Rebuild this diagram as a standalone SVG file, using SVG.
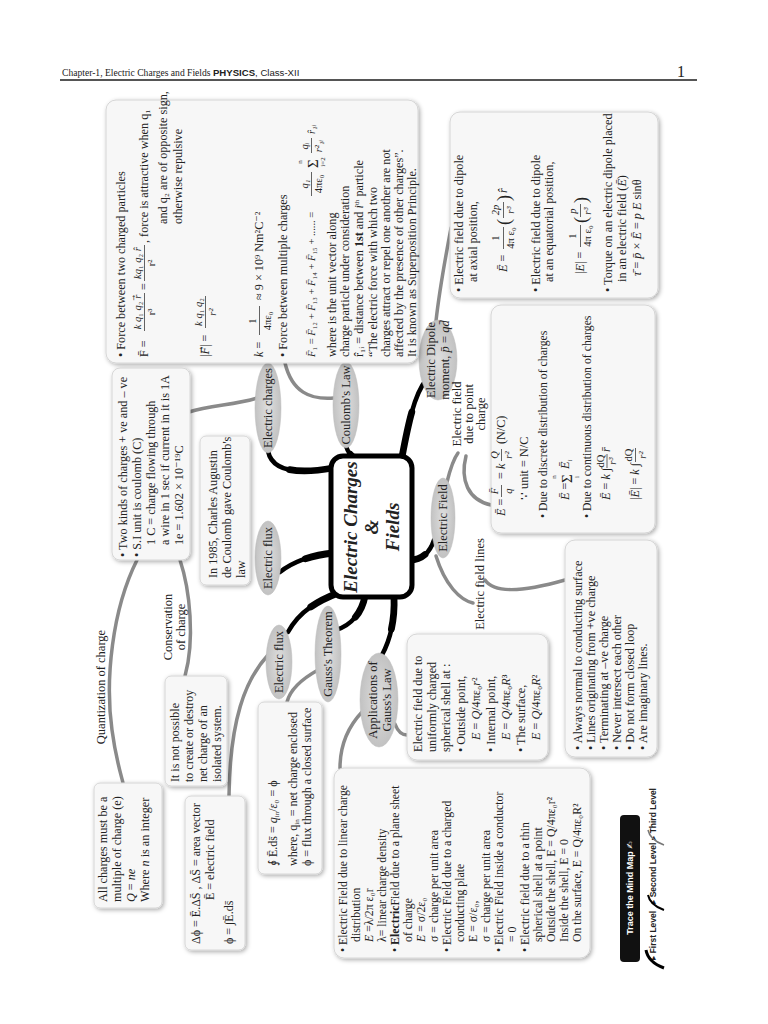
<svg xmlns="http://www.w3.org/2000/svg" width="768" height="1024" viewBox="0 0 768 1024">
<defs>
<filter id="sh" x="-10%" y="-10%" width="130%" height="130%">
<feDropShadow dx="1.5" dy="1.5" stdDeviation="2" flood-color="#000" flood-opacity="0.33"/>
</filter>
<radialGradient id="eg" cx="50%" cy="50%" r="50%">
<stop offset="0" stop-color="#dedede"/>
<stop offset="1" stop-color="#c2c2c2"/>
</radialGradient>
</defs>
<style>
text{font-family:"Liberation Serif","DejaVu Serif",serif;fill:#222;}
.t{font-size:12.2px;}
.s{font-size:10.5px;}
.xs{font-size:7px;}
.i{font-style:italic;}
.b{font-weight:bold;}
.m{text-anchor:middle;}
.box{fill:#f7f7f7;stroke:#d6d6d6;stroke-width:1;filter:url(#sh);}
.ell{fill:url(#eg);stroke:#bdbdbd;stroke-width:0.5;}
.lab{font-size:12.5px;text-anchor:middle;}
.blk{fill:none;stroke:#000;stroke-width:4.5;stroke-linecap:round;}
.blk2{fill:none;stroke:#000;stroke-width:6.8;stroke-linecap:round;}
.gry{fill:none;stroke:#8a8a8a;stroke-width:3.5;stroke-linecap:round;}
.fl{stroke:#222;stroke-width:0.7;}
.leg{font-family:"Liberation Sans","DejaVu Sans",sans-serif;font-size:8.5px;font-weight:bold;}
.ttl{font-weight:bold;font-style:italic;font-size:19px;text-anchor:middle;}
</style>
<rect width="768" height="1024" fill="#fff"/>

<g id="header">
<text x="62" y="76" style="font-size:9.6px">Chapter-1, Electric Charges and Fields <tspan style="font-family:'Liberation Sans',sans-serif;font-weight:bold">PHYSICS</tspan><tspan style="font-family:'Liberation Sans',sans-serif">, Class-XII</tspan></text>
<text x="677" y="77" style="font-size:16px">1</text>
<line x1="60" y1="80" x2="697" y2="80" stroke="#555" stroke-width="2"/>
</g>

<g id="connectors">
<path class="blk" d="M333 468 C300 474 272 472 268 451"/>
<path class="blk2" d="M333 468 C316.5 471 301.3 472 289.6 469.6"/>
<path class="blk" d="M356 459 C352 457 348 453 346 446"/>
<path class="blk2" d="M356 459 C354 458 352 456.5 350.3 454.4"/>
<path class="blk" d="M333 553 C315 555 295 560 280 572"/>
<path class="blk2" d="M333 553 C324 554 314.5 555.8 305.4 558.8"/>
<path class="blk" d="M338 593 C320 600 300 610 288 632"/>
<path class="blk2" d="M338 593 C329 596.5 319.5 600.8 310.8 606.9"/>
<path class="blk" d="M365 596 C362 612 352 625 336 630"/>
<path class="blk2" d="M365 596 C363.5 604 360.3 611.3 355.4 617.1"/>
<path class="blk" d="M394 597 C395 620 390 640 382 655"/>
<path class="blk2" d="M394 597 C394.5 608.5 393.5 619.3 391.4 629"/>
<path class="blk" d="M410 560 C422 560 430 552 434 540"/>
<path class="blk2" d="M410 560 C416 560 421 558 425 554.5"/>
<path class="blk" d="M402 457 C408 425 414 395 426 380"/>
<path class="blk2" d="M402 457 C405 441 408 425.5 411.8 412.1"/>
<path class="gry" d="M257 398 C235 405 210 405 189 412"/>
<path class="gry" d="M334 398 C310 400 292 392 285 363"/>
<path class="gry" d="M137 560 C112 610 105 680 112 730 C116 760 122 778 123 783"/>
<path class="gry" d="M180 560 C190 590 195 640 185 676"/>
<path class="gry" d="M268 655 C245 680 230 720 229 796"/>
<path class="gry" d="M318 670 C300 680 290 690 287 702"/>
<path class="gry" d="M362 712 C345 730 340 750 340 768"/>
<path class="gry" d="M395 724 C398 732 402 735 407 735"/>
<path class="gry" d="M436 321 C440 285 446 255 451 228"/>
<path class="gry" d="M447 482 C451 466 455 457 458 453"/>
<path class="gry" d="M466 456 C460 480 468 500 491 505"/>
<path class="gry" d="M436 556 C445 585 460 600 473 603"/>
<path class="gry" d="M485 580 C495 595 530 590 565 580"/>
</g>

<g id="center">
<rect x="331" y="456" width="81" height="141" rx="12" fill="#fff" stroke="#000" stroke-width="5"/>
<g transform="translate(0,1024) rotate(-90)">
<text class="ttl" x="497" y="357">Electric Charges</text>
<text class="ttl" x="497" y="378">&amp;</text>
<text class="ttl" x="497" y="399">Fields</text>
</g>
</g>

<g id="e-charges">
<ellipse class="ell" cx="268" cy="408" rx="13" ry="45"/>
<g transform="translate(0,1024) rotate(-90)"><text class="lab" x="616" y="272">Electric charges</text></g>
</g>
<g id="e-coulomb">
<ellipse class="ell" cx="346" cy="405" rx="13" ry="43"/>
<g transform="translate(0,1024) rotate(-90)"><text class="lab" x="619" y="350">Coulomb's Law</text></g>
</g>
<g id="e-flux1">
<ellipse class="ell" cx="268" cy="558" rx="13" ry="37"/>
<g transform="translate(0,1024) rotate(-90)"><text class="lab" x="466" y="272">Electric flux</text></g>
</g>
<g id="e-flux2">
<ellipse class="ell" cx="279" cy="662" rx="13" ry="37"/>
<g transform="translate(0,1024) rotate(-90)"><text class="lab" x="362" y="283">Electric flux</text></g>
</g>
<g id="e-gauss">
<ellipse class="ell" cx="328" cy="654" rx="13" ry="48"/>
<g transform="translate(0,1024) rotate(-90)"><text class="lab" x="370" y="332">Gauss's Theorem</text></g>
</g>
<g id="e-applications">
<ellipse class="ell" cx="379" cy="700" rx="19" ry="47"/>
<g transform="translate(0,1024) rotate(-90)"><text class="lab" x="324" y="377">Applications of</text><text class="lab" x="324" y="391">Gauss's Law</text></g>
</g>
<g id="e-field">
<ellipse class="ell" cx="443" cy="518" rx="12" ry="40"/>
<g transform="translate(0,1024) rotate(-90)"><text class="lab" x="506" y="447">Electric Field</text></g>
</g>
<g id="e-dipole">
<ellipse class="ell" cx="438" cy="360" rx="19" ry="40"/>
<g transform="translate(0,1024) rotate(-90)"><text class="lab" x="664" y="435">Electric Dipole</text><text class="lab" x="664" y="449">moment, <tspan class="i">p̄</tspan> = <tspan class="i">qd̄</tspan></text></g>
</g>
<g id="l-pointcharge">
<g transform="translate(0,1024) rotate(-90)"><text class="lab" x="610" y="461">Electric field</text><text class="lab" x="610" y="473">due to point</text><text class="lab" x="610" y="485">charge</text></g>
</g>
<g id="l-fieldlines">
<g transform="translate(0,1024) rotate(-90)"><text class="lab" x="440" y="484">Electric field lines</text></g>
</g>
<g id="l-quantization">
<g transform="translate(0,1024) rotate(-90)"><text class="lab" x="337" y="105">Quantization of charge</text></g>
</g>
<g id="l-conservation">
<g transform="translate(0,1024) rotate(-90)"><text class="lab" x="397" y="172">Conservation</text><text class="lab" x="397" y="185">of charge</text></g>
</g>

<g id="b-coulomb">
<rect class="box" x="106" y="100" width="312" height="263" rx="10"/>
<g transform="translate(0,1024) rotate(-90)">
<text class="t" x="667" y="125">•  Force between two charged particles</text>
<text class="t" x="667" y="148">F̄ =</text>
<text class="s m" x="712" y="141"><tspan class="i">k q</tspan>₁ <tspan class="i">q</tspan>₂ <tspan class="i">r</tspan>⃗</text>
<line class="fl" x1="693" y1="144.5" x2="731" y2="144.5"/>
<text class="s m" x="712" y="155">r³</text>
<text class="t" x="734" y="148">=</text>
<text class="s m" x="761" y="141"><tspan class="i">kq</tspan>₁ <tspan class="i">q</tspan>₂ <tspan class="i">r̂</tspan></text>
<line class="fl" x1="743" y1="144.5" x2="779" y2="144.5"/>
<text class="s m" x="761" y="155">r²</text>
<text class="t" x="781" y="148">, force is attractive when q₁</text>
<text class="t" x="800" y="167">and q₂ are of opposite sign,</text>
<text class="t" x="800" y="182">otherwise repulsive</text>
<text class="t" x="667" y="209">|<tspan class="i">F</tspan>⃗| =</text>
<text class="s m" x="712" y="202"><tspan class="i">k q</tspan>₁ <tspan class="i">q</tspan>₂</text>
<line class="fl" x1="696" y1="205.5" x2="728" y2="205.5"/>
<text class="s m i" x="712" y="216">r²</text>
<text class="t" x="667" y="263"><tspan class="i">k</tspan> =</text>
<text class="s m" x="703" y="256">1</text>
<line class="fl" x1="689" y1="259.5" x2="718" y2="259.5"/>
<text class="s m" x="703" y="271">4πε₀</text>
<text class="t" x="724" y="263">≈ 9 × 10⁹ Nm²C⁻²</text>
<text class="t" x="667" y="287">•  Force between multiple charges</text>
<text class="s" x="667" y="315"><tspan class="i">F̄</tspan>₁ = <tspan class="i">F̄</tspan>₁₂ + <tspan class="i">F̄</tspan>₁₃ + <tspan class="i">F̄</tspan>₁₄ + <tspan class="i">F̄</tspan>₁₅ + ...... =</text>
<text class="s m i" x="840" y="308">q₁</text>
<line class="fl" x1="828" y1="311.5" x2="852" y2="311.5"/>
<text class="s m" x="840" y="322">4πε₀</text>
<text x="856" y="318" style="font-size:15px">Σ</text>
<text class="xs m" x="862" y="302">n</text>
<text class="xs m" x="862" y="325">i=2</text>
<text class="s m i" x="878" y="308">qᵢ</text>
<line class="fl" x1="871" y1="311.5" x2="886" y2="311.5"/>
<text class="s m i" x="878" y="322">r²₁ᵢ</text>
<text class="s i" x="890" y="315">r̂₁ᵢ</text>
<text class="t" x="667" y="336">where is the unit vector along</text>
<text class="t" x="667" y="349">charge particle under consideration</text>
<text class="t" x="667" y="363">r̂₁ᵢ = distance between <tspan class="b">1st</tspan> and <tspan class="i">i</tspan><tspan class="xs" dy="-4">th</tspan><tspan dy="4"> particle</tspan></text>
<text class="t" x="667" y="377">“The electric force with which two</text>
<text class="t" x="667" y="390">charges attract or repel one another are not</text>
<text class="t" x="667" y="403">affected by the presence of other charges”.</text>
<text class="t" x="667" y="416">It is known as Superposition Principle.</text>
</g>
</g>

<g id="b-dipole">
<rect class="box" x="450" y="112" width="208" height="186" rx="10"/>
<g transform="translate(0,1024) rotate(-90)">
<text class="t" x="732" y="463">•  Electric field due to dipole</text>
<text class="t" x="742" y="477">at axial position,</text>
<text class="t" x="752" y="507"><tspan class="i">Ē</tspan> =</text>
<text class="s m" x="786" y="499">1</text>
<line class="fl" x1="775" y1="503.5" x2="797" y2="503.5"/>
<text class="s m" x="786" y="514">4π ε₀</text>
<text x="799" y="510" style="font-size:18px">(</text>
<text class="s m i" x="814" y="499">2p</text>
<line class="fl" x1="806" y1="503.5" x2="822" y2="503.5"/>
<text class="s m i" x="814" y="514">r³</text>
<text x="823" y="510" style="font-size:18px">)</text>
<text class="t i" x="831" y="507">r̂</text>
<text class="t" x="732" y="540">•  Electric field due to dipole</text>
<text class="t" x="742" y="553">at an equatorial position,</text>
<text class="t" x="750" y="584">|<tspan class="i">E</tspan>| =</text>
<text class="s m" x="788" y="576">1</text>
<line class="fl" x1="777" y1="580.5" x2="799" y2="580.5"/>
<text class="s m" x="788" y="591">4π ε₀</text>
<text x="801" y="587" style="font-size:18px">(</text>
<text class="s m i" x="813" y="576">p</text>
<line class="fl" x1="807" y1="580.5" x2="820" y2="580.5"/>
<text class="s m i" x="813" y="591">r³</text>
<text x="821" y="587" style="font-size:18px">)</text>
<text class="t" x="732" y="612">•  Torque on an electric dipole placed</text>
<text class="t" x="742" y="626">in an electric field (<tspan class="i">Ē</tspan>)</text>
<text class="t" x="748" y="641"><tspan class="i">τ̄</tspan> = <tspan class="i">p̄</tspan> × <tspan class="i">Ē</tspan> =  <tspan class="i">p E</tspan> sinθ</text>
</g>
</g>

<g id="b-efield">
<rect class="box" x="491" y="305" width="164" height="228" rx="10"/>
<g transform="translate(0,1024) rotate(-90)">
<text class="t" x="508" y="505"><tspan class="i">Ē</tspan> =</text>
<text class="s m i" x="533" y="498">F̄</text>
<line class="fl" x1="527" y1="501.5" x2="539" y2="501.5"/>
<text class="s m i" x="533" y="512">q</text>
<text class="t" x="545" y="505">= <tspan class="i">k</tspan></text>
<text class="s m i" x="569" y="498">Q</text>
<line class="fl" x1="563" y1="501.5" x2="575" y2="501.5"/>
<text class="s m i" x="569" y="512">r²</text>
<text class="t" x="580" y="505">(N/C)</text>
<text class="t" x="524" y="528">∵ unit = N/C</text>
<text class="t" x="506" y="547" style="font-size:11.8px">•  Due to discrete distribution of charges</text>
<text class="t" x="524" y="569"><tspan class="i">Ē</tspan> = </text>
<text x="541" y="572" style="font-size:15px">Σ</text>
<text class="xs m" x="547" y="556">n</text>
<text class="xs m" x="547" y="579">i</text>
<text class="t i" x="555" y="569">Ē<tspan class="xs" dy="3">i</tspan></text>
<text class="t" x="506" y="591" style="font-size:11.8px">•  Due to continuous distribution of charges</text>
<text class="t" x="524" y="610"><tspan class="i">Ē</tspan> = <tspan class="i">k</tspan> ∫</text>
<text class="s m" x="563" y="604">dQ</text>
<line class="fl" x1="556" y1="607" x2="570" y2="607"/>
<text class="s m i" x="563" y="616">r³</text>
<text class="t i" x="572" y="610">r̄</text>
<text class="t" x="524" y="639">|<tspan class="i">Ē</tspan>| = <tspan class="i">k</tspan> ∫</text>
<text class="s m" x="569" y="632">dQ</text>
<line class="fl" x1="562" y1="635.5" x2="576" y2="635.5"/>
<text class="s m i" x="569" y="646">r²</text>
</g>
</g>

<g id="b-fieldlines">
<rect class="box" x="565" y="540" width="92" height="217" rx="10"/>
<g transform="translate(0,1024) rotate(-90)">
<text class="t" x="274" y="582">•  Always normal to conducting surface</text>
<text class="t" x="274" y="595">•  Lines originating from +ve charge</text>
<text class="t" x="274" y="608">•  Terminating at –ve charge</text>
<text class="t" x="274" y="621">•  Never intersect each other</text>
<text class="t" x="274" y="634">•  Do not form closed loop</text>
<text class="t" x="274" y="647">•  Are imaginary lines.</text>
</g>
</g>

<g id="b-shell">
<rect class="box" x="407" y="634" width="141" height="126" rx="10"/>
<g transform="translate(0,1024) rotate(-90)">
<text class="t" x="272" y="422">Electric field due to</text>
<text class="t" x="272" y="436">uniformly charged</text>
<text class="t" x="272" y="450">spherical shell at :</text>
<text class="t" x="272" y="465">•  Outside point,</text>
<text class="t" x="284" y="480"><tspan class="i">E</tspan> = <tspan class="i">Q</tspan>/4πε₀<tspan class="i">r</tspan>²</text>
<text class="t" x="272" y="495">•  Internal point,</text>
<text class="t" x="284" y="510"><tspan class="i">E</tspan> = <tspan class="i">Q</tspan>/4πε₀<tspan class="i">R</tspan>³</text>
<text class="t" x="272" y="525">•  The surface,</text>
<text class="t" x="284" y="540"><tspan class="i">E</tspan> = <tspan class="i">Q</tspan>/4πε₀<tspan class="i">R</tspan>²</text>
</g>
</g>

<g id="b-linear">
<rect class="box" x="334" y="768" width="256" height="190" rx="10"/>
<g transform="translate(0,1024) rotate(-90)" style="font-size:11.8px">
<text x="72" y="347">•  Electric Field due to linear charge</text>
<text x="82" y="360">distribution</text>
<text x="82" y="373"><tspan class="i">E</tspan> =λ/2π ε₀r</text>
<text x="82" y="386">λ= linear charge density</text>
<text x="72" y="399">•  <tspan class="b">Electric</tspan>Field due to a plane sheet</text>
<text x="82" y="412">of charge</text>
<text x="82" y="425"><tspan class="i">E</tspan> = σ/2ε₀</text>
<text x="82" y="438">σ = charge per unit area</text>
<text x="72" y="451">•  Electric Field due to a charged</text>
<text x="82" y="464">conducting plate</text>
<text x="82" y="477">E = σ/ε₀,</text>
<text x="82" y="490">σ = charge per unit area</text>
<text x="72" y="503">•  Electric  Field inside a conductor</text>
<text x="82" y="516">= 0</text>
<text x="72" y="529">•  Electric field due to a thin</text>
<text x="82" y="542">spherical shell at a point</text>
<text x="82" y="555">Outside the shell, E = Q/4πε₀r²</text>
<text x="82" y="568">Inside the shell, E = 0</text>
<text x="82" y="581">On the surface, E = Q/4πε₀R²</text>
</g>
</g>

<g id="b-twokinds">
<rect class="box" x="112" y="368" width="78" height="192" rx="8"/>
<g transform="translate(0,1024) rotate(-90)">
<text class="t" x="467" y="127">•  Two kinds of charges + ve and – ve</text>
<text class="t" x="467" y="141">•  S.I unit is coulomb (C)</text>
<text class="t" x="479" y="155">1 C = charge flowing through</text>
<text class="t" x="479" y="169">a wire in 1 sec if current in it is 1A</text>
<text class="t" x="479" y="183">1e = 1.602 × 10⁻¹⁹C</text>
</g>
</g>

<g id="b-coulomb1985">
<rect class="box" x="200" y="436" width="50" height="149" rx="6"/>
<g transform="translate(0,1024) rotate(-90)">
<text class="t" x="446" y="217">In 1985, Charles Augustin</text>
<text class="t" x="446" y="231">de Coulomb gave Coulomb's</text>
<text class="t" x="446" y="245">law</text>
</g>
</g>

<g id="b-quant">
<rect class="box" x="94" y="783" width="68" height="125" rx="6"/>
<g transform="translate(0,1024) rotate(-90)">
<text class="t" x="122" y="107">All charges must be a</text>
<text class="t" x="122" y="121">multiple of charge (e)</text>
<text class="t" x="122" y="135"><tspan class="i">Q</tspan> = <tspan class="i">ne</tspan></text>
<text class="t" x="122" y="149">Where <tspan class="i">n</tspan> is an integer</text>
</g>
</g>

<g id="b-conserv">
<rect class="box" x="165" y="676" width="62" height="110" rx="6"/>
<g transform="translate(0,1024) rotate(-90)" style="font-size:12px">
<text x="242" y="179">It is not possible</text>
<text x="242" y="193">to create or destroy</text>
<text x="242" y="207">net charge of an</text>
<text x="242" y="221">isolated system.</text>
</g>
</g>

<g id="b-flux">
<rect class="box" x="185" y="796" width="60" height="154" rx="6"/>
<g transform="translate(0,1024) rotate(-90)" style="font-size:12px">
<text x="80" y="200">Δϕ = Ē.ΔS̄ , ΔS̄ = area vector</text>
<text x="124" y="214">Ē = electric field</text>
<text x="80" y="233">ϕ = ∫Ē.ds̄</text>
</g>
</g>

<g id="b-gauss">
<rect class="box" x="258" y="702" width="64" height="172" rx="6"/>
<g transform="translate(0,1024) rotate(-90)" style="font-size:12px">
<text x="158" y="277">∮ Ē.ds̄ = <tspan class="i">q</tspan><tspan class="xs" dy="2">in</tspan><tspan dy="-2">/</tspan><tspan class="i">ε</tspan>₀ = ϕ</text>
<text x="158" y="297">where, q<tspan class="xs" dy="2">in</tspan><tspan dy="-2"> = net charge enclosed</tspan></text>
<text x="158" y="311">ϕ = flux through a closed surface</text>
</g>
</g>

<g id="legend">
<rect x="620" y="815" width="20" height="147" rx="4" fill="#111"/>
<g transform="translate(0,1024) rotate(-90)">
<text class="leg m" x="136" y="633" style="fill:#fff;font-size:9px">Trace the  Mind Map ✍</text>
<text class="leg" x="64" y="656">▸ First Level</text>
<text class="leg" x="120" y="656">▸ Second Level</text>
<text class="leg" x="184" y="656">▸ Third Level</text>
</g>
<path d="M664 968 Q648 962 646 950" fill="none" stroke="#000" stroke-width="3"/>
<path d="M664 910 Q650 905 648 895" fill="none" stroke="#000" stroke-width="2"/>
<path d="M664 845 Q650 840 648 830" fill="none" stroke="#777" stroke-width="1.5"/>
</g>
</svg>
